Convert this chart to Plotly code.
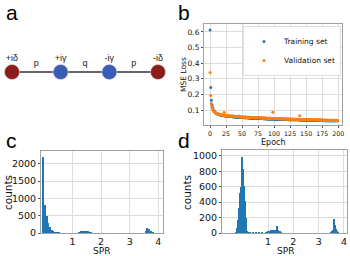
import plotly.graph_objects as go

# ---------------- data ----------------
node_x = [0, 1, 2, 3]
node_labels = ["+iδ", "+iγ", "-iγ", "-iδ"]
node_colors = ["#8b1c1c", "#3b5cb5", "#3b5cb5", "#8b1c1c"]
bond_x = [0.5, 1.5, 2.5]
bond_labels = ["p", "q", "p"]

epochs = list(range(200))
train_loss = [
    0.612, 0.245, 0.163, 0.133, 0.116, 0.104, 0.096, 0.090, 0.085, 0.081,
    0.078, 0.076, 0.074, 0.072, 0.071, 0.069, 0.068, 0.067, 0.066, 0.066,
    0.065, 0.064, 0.064, 0.063, 0.062, 0.062, 0.061, 0.061, 0.060, 0.060,
    0.059, 0.059, 0.058, 0.058, 0.058, 0.057, 0.057, 0.056, 0.056, 0.056,
    0.055, 0.055, 0.055, 0.054, 0.054, 0.054, 0.053, 0.053, 0.053, 0.052,
    0.052, 0.052, 0.052, 0.051, 0.051, 0.051, 0.050, 0.050, 0.050, 0.050,
    0.049, 0.049, 0.049, 0.049, 0.048, 0.048, 0.048, 0.048, 0.047, 0.047,
    0.047, 0.047, 0.047, 0.046, 0.046, 0.046, 0.046, 0.046, 0.045, 0.045,
    0.045, 0.045, 0.045, 0.044, 0.044, 0.044, 0.044, 0.044, 0.044, 0.043,
    0.043, 0.043, 0.043, 0.043, 0.043, 0.042, 0.042, 0.042, 0.042, 0.042,
    0.042, 0.041, 0.041, 0.041, 0.041, 0.041, 0.041, 0.041, 0.040, 0.040,
    0.040, 0.040, 0.040, 0.040, 0.040, 0.039, 0.039, 0.039, 0.039, 0.039,
    0.039, 0.039, 0.039, 0.038, 0.038, 0.038, 0.038, 0.038, 0.038, 0.038,
    0.038, 0.037, 0.037, 0.037, 0.037, 0.037, 0.037, 0.037, 0.037, 0.037,
    0.036, 0.036, 0.036, 0.036, 0.036, 0.036, 0.036, 0.036, 0.036, 0.035,
    0.035, 0.035, 0.035, 0.035, 0.035, 0.035, 0.035, 0.035, 0.035, 0.034,
    0.035, 0.034, 0.034, 0.034, 0.034, 0.034, 0.034, 0.033, 0.034, 0.033,
    0.033, 0.033, 0.033, 0.033, 0.033, 0.033, 0.033, 0.033, 0.032, 0.033,
    0.032, 0.032, 0.032, 0.032, 0.032, 0.032, 0.032, 0.032, 0.032, 0.032,
    0.032, 0.031, 0.031, 0.031, 0.031, 0.031, 0.031, 0.031, 0.031, 0.031,
]
val_loss = [
    0.340, 0.193, 0.142, 0.121, 0.107, 0.098, 0.092, 0.087, 0.083, 0.080,
    0.079, 0.077, 0.076, 0.074, 0.073, 0.072, 0.070, 0.071, 0.069, 0.068,
    0.068, 0.067, 0.084, 0.066, 0.065, 0.066, 0.064, 0.064, 0.063, 0.065,
    0.062, 0.062, 0.063, 0.061, 0.061, 0.060, 0.062, 0.060, 0.059, 0.060,
    0.059, 0.058, 0.058, 0.059, 0.057, 0.061, 0.057, 0.056, 0.057, 0.056,
    0.056, 0.055, 0.056, 0.055, 0.055, 0.054, 0.056, 0.054, 0.053, 0.054,
    0.053, 0.053, 0.054, 0.052, 0.053, 0.052, 0.052, 0.054, 0.051, 0.052,
    0.051, 0.051, 0.052, 0.050, 0.051, 0.050, 0.052, 0.050, 0.049, 0.050,
    0.049, 0.050, 0.049, 0.048, 0.049, 0.050, 0.048, 0.048, 0.049, 0.047,
    0.048, 0.047, 0.048, 0.047, 0.049, 0.046, 0.047, 0.046, 0.085, 0.046,
    0.046, 0.045, 0.046, 0.045, 0.046, 0.045, 0.044, 0.045, 0.044, 0.045,
    0.044, 0.044, 0.045, 0.043, 0.044, 0.043, 0.044, 0.043, 0.042, 0.043,
    0.043, 0.042, 0.043, 0.042, 0.042, 0.043, 0.041, 0.042, 0.041, 0.042,
    0.041, 0.041, 0.042, 0.040, 0.041, 0.040, 0.041, 0.040, 0.041, 0.040,
    0.063, 0.040, 0.039, 0.040, 0.039, 0.040, 0.039, 0.039, 0.040, 0.038,
    0.039, 0.038, 0.039, 0.038, 0.039, 0.038, 0.038, 0.039, 0.037, 0.038,
    0.038, 0.037, 0.038, 0.037, 0.037, 0.038, 0.037, 0.036, 0.037, 0.037,
    0.036, 0.037, 0.036, 0.036, 0.037, 0.036, 0.035, 0.036, 0.036, 0.035,
    0.036, 0.035, 0.035, 0.036, 0.035, 0.035, 0.034, 0.035, 0.035, 0.034,
    0.035, 0.034, 0.034, 0.035, 0.034, 0.034, 0.033, 0.034, 0.034, 0.033,
]
b_xticks = [0, 25, 50, 75, 100, 125, 150, 175, 200]
b_yticks = [0.1, 0.2, 0.3, 0.4, 0.5, 0.6]

c_bin_width = 0.06
c_centers = [-0.03, 0.03, 0.09, 0.15, 0.21, 0.27, 0.33, 0.39, 0.45, 0.51,
             1.23, 1.29, 1.35, 1.41, 1.47, 1.53, 1.59, 1.65,
             3.57, 3.63, 3.69, 3.75, 3.81]
c_counts = [2200, 820, 500, 300, 180, 100, 50, 25, 10, 4,
            15, 60, 55, 40, 35, 60, 25, 8,
            40, 140, 110, 60, 15]
c_yticks = [0, 500, 1000, 1500, 2000]

d_bin_width = 0.04
d_centers = [-0.26, -0.22, -0.18, -0.14, -0.10, -0.06, -0.02, 0.02, 0.06, 0.10, 0.14, 0.18, 0.22,
             0.30, 0.42, 0.54, 0.66, 0.78, 0.90,
             0.98, 1.02, 1.06, 1.10, 1.14, 1.18, 1.22, 1.26, 1.30, 1.34, 1.38, 1.42, 1.46, 1.50,
             3.50, 3.54, 3.58, 3.62, 3.66, 3.70, 3.74, 3.78]
d_counts = [10, 60, 170, 330, 520, 600, 990, 830, 610, 420, 200, 30, 8,
            6, 5, 8, 6, 5, 10,
            25, 30, 20, 35, 30, 40, 25, 35, 45, 90, 40, 25, 15, 8,
            10, 30, 40, 180, 110, 55, 20, 8]
d_yticks = [0, 200, 400, 600, 800, 1000]
spr_ticks = [1, 2, 3, 4]

# ---------------- figure ----------------
W, H = 350, 256
def px(x):
    return x / W
def py(y):
    return 1 - y / H

fig = go.Figure()
TICKF = dict(family="DejaVu Sans", size=9.5, color="#111")
GRID = "#dcdcdc"
FRAME = "#a0a0a0"

# panel a
fig.add_trace(go.Scatter(x=node_x, y=[0] * 4, mode="lines", line=dict(color="#333", width=1.5),
                         xaxis="x", yaxis="y", showlegend=False, hoverinfo="skip"))
fig.add_trace(go.Scatter(x=node_x, y=[0] * 4, mode="markers",
                         marker=dict(size=15, color=node_colors, line=dict(color="#ddd", width=0.5)),
                         xaxis="x", yaxis="y", showlegend=False))
fig.add_trace(go.Scatter(x=node_x, y=[0.27] * 4, mode="text", text=node_labels,
                         textfont=dict(family="Liberation Sans", size=9, color="#222"),
                         xaxis="x", yaxis="y", showlegend=False))
fig.add_trace(go.Scatter(x=bond_x, y=[0.17] * 3, mode="text", text=bond_labels,
                         textfont=dict(family="Liberation Sans", size=9, color="#222"),
                         xaxis="x", yaxis="y", showlegend=False))

# panel b
fig.add_trace(go.Scatter(x=epochs, y=train_loss, mode="markers", name="Training set",
                         marker=dict(size=3, color="#1f77b4"), xaxis="x2", yaxis="y2"))
fig.add_trace(go.Scatter(x=epochs, y=val_loss, mode="markers", name="Validation set",
                         marker=dict(size=3, color="#ff7f0e"), xaxis="x2", yaxis="y2"))

# panel c
fig.add_trace(go.Bar(x=c_centers, y=c_counts, width=c_bin_width, marker=dict(color="#1f77b4", line=dict(width=0)),
                     xaxis="x3", yaxis="y3", showlegend=False))
# panel d
fig.add_trace(go.Bar(x=d_centers, y=d_counts, width=d_bin_width, marker=dict(color="#1f77b4", line=dict(width=0)),
                     xaxis="x4", yaxis="y4", showlegend=False))

k = 48.67
common = dict(showgrid=True, gridcolor=GRID, showline=True, mirror=True, linecolor=FRAME,
              ticks="outside", ticklen=2, tickcolor="#555", zeroline=False, automargin=False)
common_x = dict(common, ticks="", ticklen=0)
fig.update_layout(
    width=W, height=H, margin=dict(l=0, r=0, t=0, b=0, autoexpand=False),
    paper_bgcolor="white", plot_bgcolor="white", bargap=0,
    xaxis=dict(domain=[0, 0.5], range=[-12 / k, 163 / k], visible=False),
    yaxis=dict(domain=[0.5, 1], range=[-56 / k, 72 / k], visible=False),
    xaxis2=dict(domain=[px(204), px(342)], range=[-9.5, 206], anchor="y2",
                tickvals=b_xticks, tickfont=dict(family="DejaVu Sans", size=6.3, color="#111"), **common),
    yaxis2=dict(domain=[py(125), py(24)], range=[0.004, 0.651], anchor="x2",
                tickvals=b_yticks, tickformat=".1f",
                tickfont=dict(family="DejaVu Sans", size=7.5, color="#111"), **common),
    xaxis3=dict(domain=[px(41), px(163)], range=[-0.11, 4.17], anchor="y3",
                tickvals=spr_ticks, tickfont=TICKF, **common_x),
    yaxis3=dict(domain=[py(233), py(151)], range=[0, 2370], anchor="x3",
                tickvals=c_yticks, tickfont=TICKF, **common),
    xaxis4=dict(domain=[px(222), px(347)], range=[-0.82, 4.12], anchor="y4",
                tickvals=spr_ticks, tickfont=TICKF, **common_x),
    yaxis4=dict(domain=[py(233), py(150)], range=[0, 1075], anchor="x4",
                tickvals=d_yticks, tickfont=TICKF, **common),
    legend=dict(x=px(341), y=py(26), xanchor="right", yanchor="top",
                bgcolor="rgba(255,255,255,0.9)", bordercolor="#ddd", borderwidth=1,
                font=dict(family="DejaVu Sans", size=7.5, color="#111"),
                itemwidth=30, tracegroupgap=0),
)

annots = [
    dict(x=px(4), y=py(12), text="a"),
    dict(x=px(176), y=py(12), text="b"),
    dict(x=px(4), y=py(140), text="c"),
    dict(x=px(176), y=py(140), text="d"),
]
for a in annots:
    fig.add_annotation(x=a["x"], y=a["y"], xref="paper", yref="paper", text=a["text"], showarrow=False,
                       xanchor="left", yanchor="middle",
                       font=dict(family="Liberation Sans", size=21, color="#000"))

titles = [
    dict(x=px(183), y=py(75), text="MSE Loss", size=7.5, angle=-90),
    dict(x=px(273), y=py(142), text="Epoch", size=8, angle=0),
    dict(x=px(8), y=py(193), text="counts", size=10.5, angle=-90),
    dict(x=px(101), y=py(251), text="SPR", size=9, angle=0),
    dict(x=px(187), y=py(193), text="counts", size=10.5, angle=-90),
    dict(x=px(285), y=py(251), text="SPR", size=9, angle=0),
]
for t in titles:
    fig.add_annotation(x=t["x"], y=t["y"], xref="paper", yref="paper", text=t["text"], showarrow=False,
                       xanchor="center", yanchor="middle", textangle=t["angle"],
                       font=dict(family="DejaVu Sans", size=t["size"], color="#111"))

fig.write_html("out.html", config={"displayModeBar": False},
               post_script="document.body.style.margin='0';document.body.style.padding='0';")
